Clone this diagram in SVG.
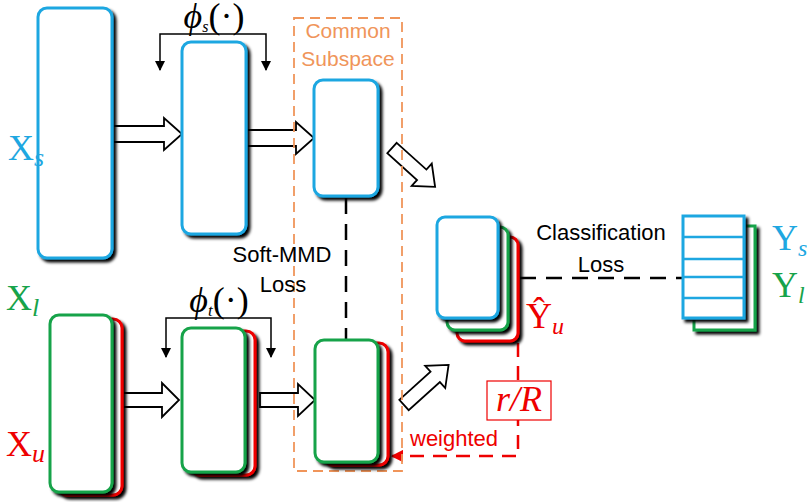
<svg xmlns="http://www.w3.org/2000/svg" width="807" height="502" viewBox="0 0 807 502">
<defs>
<filter id="sh" x="-20%" y="-20%" width="150%" height="150%"><feDropShadow dx="3" dy="3" stdDeviation="1.5" flood-color="#000"/></filter>
<marker id="ah" viewBox="0 0 10 10" refX="9" refY="5" markerWidth="7" markerHeight="7" orient="auto-start-reverse"><path d="M0,0L10,5L0,10z" fill="#000"/></marker>
<marker id="ar" viewBox="0 0 10 10" refX="9" refY="5" markerWidth="5" markerHeight="5" orient="auto"><path d="M0,0L10,5L0,10z" fill="#e00"/></marker>
</defs>
<style>
.b{fill:#fff;stroke:#1ea7e1;stroke-width:3;filter:url(#sh)}
.g{fill:#fff;stroke:#17a34a;stroke-width:3;filter:url(#sh)}
.r{fill:#fff;stroke:#e00;stroke-width:3;filter:url(#sh)}
.ha{fill:#fff;stroke:#000;stroke-width:1.8}
.t{font-family:"Liberation Sans",sans-serif;font-size:22px;fill:#000}
.m{font-family:"Liberation Serif",serif;font-size:36px}
</style>
<rect width="807" height="502" fill="#fff"/>
<g id="connectors">
<path d="M160,70V34H266V70" fill="none" stroke="#000" stroke-width="1.5" marker-start="url(#ah)" marker-end="url(#ah)"/>
<path d="M166,357V318H271V357" fill="none" stroke="#000" stroke-width="1.5" marker-start="url(#ah)" marker-end="url(#ah)"/>
<polygon class="ha" points="112,126 164,126 164,118 182,134 164,150 164,142 112,142"/>
<polygon class="ha" points="246,130 296,130 296,122 314,138 296,154 296,146 246,146"/>
<polygon class="ha" points="120,393 162,393 162,383 179,400 162,417 162,407 120,407"/>
<polygon class="ha" points="260,393 298,393 298,384 315,400 298,416 298,407 260,407"/>
<polygon class="ha" points="0,-7 40,-7 40,-15 58,0 40,15 40,7 0,7" transform="translate(392,148) rotate(42)"/>
<polygon class="ha" points="0,-7 42,-7 42,-15 60,0 42,15 42,7 0,7" transform="translate(404,405) rotate(-42)"/>
<path d="M346,198V340" stroke="#000" stroke-width="2.5" stroke-dasharray="16,10"/>
<path d="M520,278H683" stroke="#000" stroke-width="2.5" stroke-dasharray="16,10"/>
<path d="M518,343V456H392" fill="none" stroke="#e00" stroke-width="2.5" stroke-dasharray="14,9" marker-end="url(#ar)"/>
</g>
<rect x="294" y="18" width="108" height="453" fill="none" stroke="#f0955a" stroke-width="1.8" stroke-dasharray="10,6"/>
<text x="348" y="38" text-anchor="middle" class="t" style="fill:#f0955a;font-size:21px">Common</text>
<text x="348" y="66" text-anchor="middle" class="t" style="fill:#f0955a;font-size:21px">Subspace</text>
<g id="xs"><rect class="b" x="38" y="8" width="74" height="250" rx="9"/><text x="8" y="160" class="m" fill="#1ea7e1">X<tspan font-style="italic" font-size="26" dy="6">s</tspan></text></g>
<g id="phis"><rect class="b" x="182" y="42" width="64" height="192" rx="9"/><text x="214" y="28" text-anchor="middle" class="m" font-size="22" font-style="italic">ϕ<tspan font-size="16" dy="4">s</tspan><tspan dy="-4" font-style="normal">(·)</tspan></text></g>
<g id="cs"><rect class="b" x="314" y="80" width="64" height="116" rx="9"/></g>
<g id="xl"><rect class="r" x="58" y="319" width="64" height="176" rx="9"/><rect class="g" x="50" y="315" width="62" height="177" rx="9"/>
<text x="6" y="310" class="m" fill="#17a34a">X<tspan font-style="italic" font-size="26" dy="6">l</tspan></text>
<text x="6" y="456" class="m" fill="#e00">X<tspan font-style="italic" font-size="26" dy="6">u</tspan></text></g>
<g id="phit"><rect class="r" x="191" y="331" width="64" height="144" rx="9"/><rect class="g" x="182" y="328" width="63" height="144" rx="9"/><text x="219" y="312" text-anchor="middle" class="m" font-size="24" font-style="italic">ϕ<tspan font-size="17" dy="4">t</tspan><tspan dy="-4" font-style="normal">(·)</tspan></text></g>
<g id="ct"><rect class="r" x="324" y="343" width="64" height="122" rx="9"/><rect class="g" x="315" y="340" width="63" height="122" rx="9"/></g>
<text x="282" y="262" text-anchor="middle" class="t">Soft-MMD</text>
<text x="283" y="292" text-anchor="middle" class="t">Loss</text>
<g id="pred"><rect class="r" x="457" y="237" width="61" height="104" rx="8"/><rect class="g" x="447" y="227" width="61" height="103" rx="8"/><rect class="b" x="437" y="217" width="61" height="101" rx="8"/>
<text x="526" y="328" class="m" font-size="32" fill="#e00">Ŷ<tspan font-style="italic" font-size="24" dy="6">u</tspan></text></g>
<text x="601" y="240" text-anchor="middle" class="t">Classification</text>
<text x="601" y="272" text-anchor="middle" class="t">Loss</text>
<g id="labels"><rect x="694" y="226" width="61" height="104" fill="#fff" stroke="#17a34a" stroke-width="3" filter="url(#sh)"/><rect x="683" y="216" width="61" height="102" fill="#fff" stroke="#1ea7e1" stroke-width="3" filter="url(#sh)"/>
<path d="M683,237H744M683,259H744M683,277H744M683,298H744" stroke="#1ea7e1" stroke-width="2.5"/>
<text x="772" y="250" class="m" font-size="32" fill="#1ea7e1">Y<tspan font-style="italic" font-size="24" dy="6">s</tspan></text>
<text x="772" y="297" class="m" font-size="32" fill="#17a34a">Y<tspan font-style="italic" font-size="24" dy="6">l</tspan></text></g>
<g id="rR"><rect x="487" y="381" width="64" height="39" fill="#fff" stroke="#e00" stroke-width="1.2"/><text x="519" y="411" text-anchor="middle" class="m" font-size="28" font-style="italic" fill="#e00">r/R</text></g>
<text x="410" y="446" class="t" style="fill:#e00">weighted</text>
</svg>
